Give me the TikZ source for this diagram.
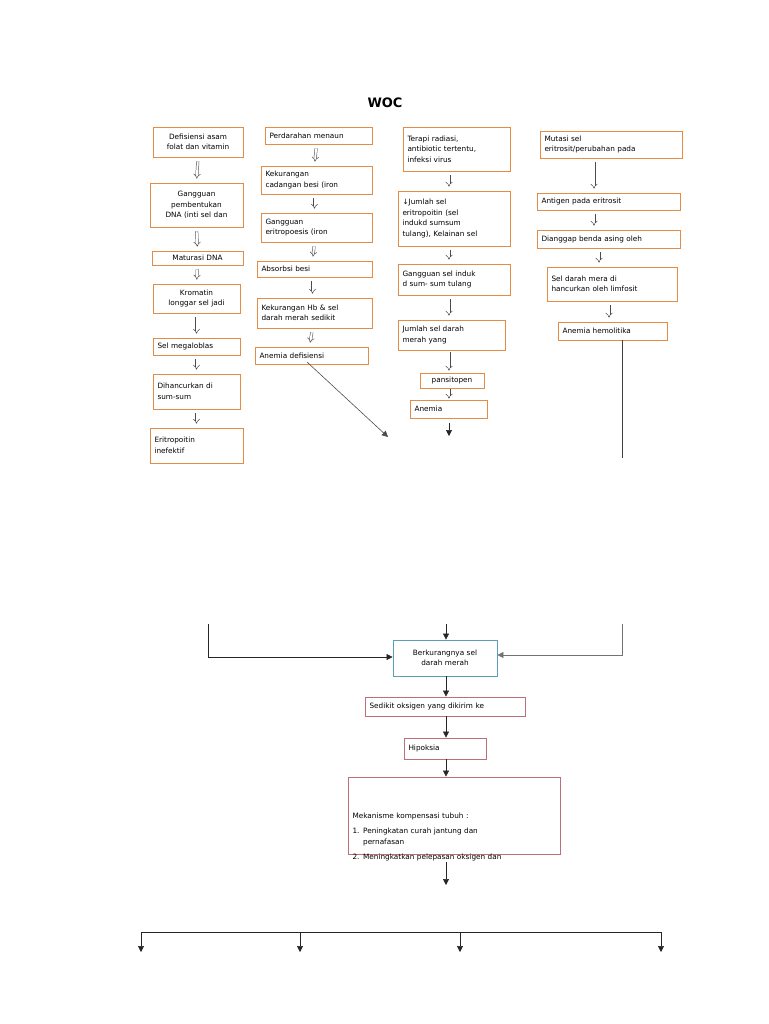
\documentclass[tikz,border=0pt]{standalone}
\usepackage{fontspec}
\setmainfont{DejaVu Sans}
\usetikzlibrary{arrows.meta,shadows}
\definecolor{ob}{RGB}{228,140,70}
\definecolor{osh}{RGB}{200,130,80}
\definecolor{rb}{RGB}{190,110,120}
\definecolor{tb}{RGB}{90,160,180}
\newcommand\bx[7][]{\node[box,#1,minimum width={(#5-#3)*1pt},minimum height={(#6-#4)*1pt},text width={(#5-#3-9)*1pt}] (#2) at ({(#3+#5)/2},{(#4+#6)/2}) {#7};}
\begin{document}
\begin{tikzpicture}[x=1pt,y=-1pt,
  box/.style={draw=ob,fill=white,line width=0.8pt,inner sep=2pt,align=left,
    font=\fontsize{7.3}{10.5}\selectfont,
    drop shadow={shadow xshift=1.3pt,shadow yshift=-1.3pt,fill=osh,opacity=0.8}},
  rbox/.style={draw=rb,drop shadow={shadow xshift=1.3pt,shadow yshift=-1.3pt,fill=rb,opacity=0.8}},
  tbox/.style={draw=tb,drop shadow={shadow xshift=1.3pt,shadow yshift=-1.3pt,fill=gray,opacity=0.5}},
  ha/.style={double=white,draw=black!70,double distance=2pt,line width=0.5pt,-{Implies},shorten <=4pt,shorten >=4pt},
  fa/.style={-{Triangle[length=6pt,width=6pt]},line width=0.6pt,draw=black!85}]
\useasboundingbox (0,0) rectangle (768,1024);
\node[font=\bfseries\fontsize{13}{15}\selectfont] (title) at (385,103) {WOC};
% column 1
\bx[align=center]{a1}{153}{127}{243}{157}{Defisiensi asam\\folat dan vitamin}
\bx[align=center]{a2}{150}{183}{243}{227}{Gangguan\\pembentukan\\DNA (inti sel dan}
\bx[align=center]{a3}{152}{251}{243}{265}{Maturasi DNA}
\bx[align=center]{a4}{153}{284}{240}{313}{Kromatin\\longgar sel jadi}
\bx{a5}{153}{338}{240}{355}{Sel megaloblas}
\bx{a6}{153}{374}{240}{409}{Dihancurkan di\\sum-sum}
\bx{a7}{150}{428}{243}{463}{Eritropoitin\\inefektif}
\foreach \u/\v in {a1/a2,a2/a3,a3/a4,a4/a5,a5/a6,a6/a7} \draw[ha] (\u.south) -- (\v.north);
% column 2
\bx{b1}{265}{127}{372}{144}{Perdarahan menaun}
\bx{b2}{261}{166}{372}{194}{Kekurangan\\cadangan besi (iron}
\bx{b3}{261}{213}{372}{242}{Gangguan\\eritropoesis (iron}
\bx{b4}{257}{261}{372}{277}{Absorbsi besi}
\bx{b5}{257}{298}{372}{328}{Kekurangan Hb \& sel\\darah merah sedikit}
\bx{b6}{255}{347}{368}{364}{Anemia defisiensi}
\foreach \u/\v in {b1/b2,b2/b3,b3/b4,b4/b5,b5/b6} \draw[ha] ([xshift=-2pt]\u.south) -- ([xshift=-2pt]\v.north);
\coordinate (bend) at (388,437);
\draw[fa,draw=black!70] (307,362) -- (bend);
% column 3
\bx{c1}{403}{127}{510}{171}{Terapi radiasi,\\antibiotic tertentu,\\infeksi virus}
\bx{c2}{398}{191}{510}{246}{↓Jumlah sel\\eritropoitin (sel\\indukd sumsum\\tulang), Kelainan sel}
\bx{c3}{398}{264}{510}{295}{Gangguan sel induk\\d sum- sum tulang}
\bx{c4}{398}{320}{505}{350}{Jumlah sel darah\\merah yang}
\bx[align=center]{c5}{420}{373}{484}{388}{pansitopen}
\bx{c6}{410}{400}{487}{418}{Anemia}
\foreach \u/\v in {c1/c2,c2/c3,c3/c4} \draw[ha] (449,0|-\u.south) -- (449,0|-\v.north);
\draw[ha,shorten <=2pt,shorten >=2pt] (449,0|-c4.south) -- (449,0|-c5.north);
\draw[ha,shorten <=1pt,shorten >=1pt] (449,0|-c5.south) -- (449,0|-c6.north);
\coordinate (cend) at (449,436);
\draw[fa] (449,423) -- (cend);
% column 4
\bx{d1}{540}{131}{682}{158}{Mutasi sel\\eritrosit/perubahan pada}
\bx{d2}{537}{193}{680}{210}{Antigen pada eritrosit}
\bx{d3}{537}{230}{680}{248}{Dianggap benda asing oleh}
\bx{d4}{547}{267}{677}{301}{Sel darah mera di\\hancurkan oleh limfosit}
\bx{d5}{558}{322}{667}{340}{Anemia hemolitika}
\draw[ha] (594,0|-d1.south) -- (594,0|-d2.north);
\draw[ha] (594,0|-d2.south) -- (594,0|-d3.north);
\draw[ha] (599,0|-d3.south) -- (599,0|-d4.north);
\draw[ha] (609,0|-d4.south) -- (609,0|-d5.north);
\coordinate (dend) at (622,458);
\draw[black!75,line width=0.6pt] (622,0|-d5.south) -- (dend);
% bottom
\bx[tbox,align=center]{e1}{393}{640}{497}{676}{Berkurangnya sel\\darah merah}
\bx[rbox]{e2}{365}{697}{525}{716}{Sedikit oksigen yang dikirim ke}
\bx[rbox]{e3}{404}{738}{486}{759}{Hipoksia}
\bx[rbox,text depth=0pt]{e4}{348}{777}{560}{854}{Mekanisme kompensasi tubuh :\\[5pt]
1. Peningkatan curah jantung dan\\\phantom{1. }pernafasan\\[5pt]2. Meningkatkan pelepasan oksigen dan}
\coordinate (l1) at (208,624);
\coordinate (r1) at (622,624);
\coordinate (m1) at (446,624);
\draw[fa] (l1) |- (e1.west|-0,657);
\draw[fa,draw=black!55] (r1) |- (e1.east|-0,655);
\draw[fa] (m1) -- (e1.north-|m1);
\draw[fa] (e1.south-|m1) -- (e2.north-|m1);
\draw[fa] (e2.south-|m1) -- (e3.north-|m1);
\draw[fa] (e3.south-|m1) -- (e4.north-|m1);
\coordinate (m2) at (446,885);
\draw[fa] (446,862) -- (m2);
\coordinate (h1) at (141,932);
\coordinate (h2) at (661,932);
\draw[black!85,line width=0.6pt] (h1) -- (h2);
\foreach \x in {141,300,460,661} {\coordinate (t\x) at (\x,952); \draw[fa] (\x,932) -- (t\x);}
\end{tikzpicture}
\end{document}
